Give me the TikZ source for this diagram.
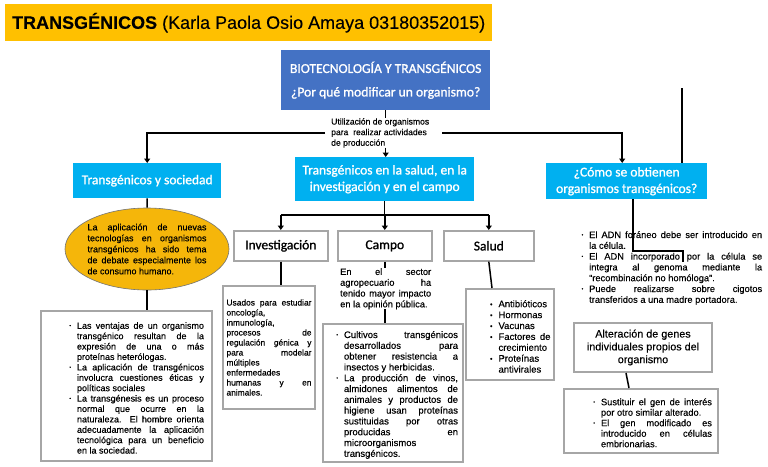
\documentclass[tikz,border=0pt]{standalone}
\usepackage{fontspec}
\setmainfont{Liberation Sans}[FakeBold=0.25]
\newfontfamily\calib{Carlito}[FakeBold=1.1]
\usetikzlibrary{arrows.meta,shapes.geometric}
\definecolor{ygold}{HTML}{FFC000}
\definecolor{ellc}{HTML}{F5B60A}
\definecolor{mblue}{HTML}{4472C4}
\definecolor{lblue}{HTML}{00B0F0}
\definecolor{gbord}{HTML}{A6A6A6}
\newcommand{\bdot}{\raisebox{0.35ex}{\fontsize{4.5}{5}\selectfont\textbullet}}
\newcommand{\bbig}{\raisebox{0.1ex}{\fontsize{7}{7}\selectfont\textbullet}}
\newenvironment{blist}[2][\bdot]{\begin{list}{#1}{\setlength{\leftmargin}{#2}\setlength{\labelsep}{6pt}\setlength{\labelwidth}{\dimexpr#2-6pt\relax}\setlength{\itemsep}{0pt}\setlength{\parsep}{0pt}\setlength{\topsep}{0pt}\setlength{\partopsep}{0pt}\setlength{\itemindent}{0pt}}}{\end{list}}
\tikzset{
  conn/.style={draw=black, line width=1.5pt},
  arr/.style={conn, -{Triangle[length=4.5pt,width=6pt]}},
  gbox/.style={draw=gbord, line width=2pt, fill=white, anchor=north west, align=justify},
  hbox/.style={draw=gbord, line width=1.6pt, fill=white, anchor=north west, minimum height=30, inner sep=0, font=\calib\fontsize{13.5}{15}\selectfont},
  bbox/.style={fill=lblue, anchor=north west, inner sep=0, align=center, text=white, font=\calib\fontsize{13.5}{16.5}\selectfont},
}
\begin{document}
\begin{tikzpicture}[x=1pt,y=-1pt]
\fill[white] (0,0) rectangle (768,466);
\useasboundingbox (0,0) rectangle (768,466);

% title
\node[fill=ygold, anchor=north west, minimum width=487, minimum height=37, inner sep=0] (title) at (5,4)
  {\fontsize{18}{20}\selectfont\textbf{TRANSGÉNICOS} (Karla Paola Osio Amaya 03180352015)};

% main box
\node[fill=mblue, anchor=north west, minimum width=209, minimum height=60, inner sep=0, align=center, text=white,
  font=\calib\fontsize{13.6}{23.5}\selectfont] (main) at (281,50)
  {BIOTECNOLOGÍA Y TRANSGÉNICOS\\¿Por qué modificar un organismo?};

% utilization text
\node[anchor=north west, inner sep=0, align=left, font=\fontsize{8.6}{10.6}\selectfont] (util) at (331,118)
  {Utilización de organismos\\para~ realizar actividades\\de producción};

% level-2 blue boxes
\node[bbox, minimum width=148, minimum height=35] (soc) at (73,163) {Transgénicos y sociedad};
\node[bbox, minimum width=179, minimum height=44] (salh) at (295,157) {Transgénicos en la salud, en la\\investigación y en el campo};
\node[bbox, minimum width=161, minimum height=36] (como) at (546,163) {¿Cómo se obtienen\\organismos transgénicos?};

\coordinate (hl) at (325,133);
\coordinate (hr) at (442,133);
\coordinate (rtop) at (682,88);
\draw[conn] (main.south) -- (main.south |- util.north);
\draw[arr] (main.south |- util.south) -- (salh.north -| main.south);
\draw[arr] (hl) -| (soc.north);
\draw[arr] (hr) -| ([xshift=-4.5pt]como.north);
\draw[conn] (rtop) -- (rtop |- como.north);

% ellipse
\node[ellipse, fill=ellc, draw=black!55, line width=0.6pt, minimum width=164, minimum height=82, inner sep=0] (ell) at (147,249) {};
\node[text width=119, inner sep=0, align=justify, font=\fontsize{9}{11}\selectfont] (ellt) at (ell.center)
  {La aplicación de nuevas\linebreak tecnologías en organismos\linebreak transgénicos ha sido tema\linebreak de debate especialmente los\linebreak de consumo humano.};
\draw[conn] (soc.south) -- (ell.north);

% ventajas box
\node[gbox, minimum width=171, minimum height=150, text width=155, inner xsep=8, inner ysep=0, font=\fontsize{9}{10.4}\selectfont] (vent) at (40,310)
{\begin{blist}{28pt}
\item Las ventajas de un organismo\linebreak transgénico resultan de la\linebreak expresión de una o más\linebreak proteínas heterólogas.
\item La aplicación de transgénicos\linebreak involucra cuestiones éticas y\linebreak políticas sociales
\item La transgénesis es un proceso\linebreak normal que ocurre en la\linebreak naturaleza. El hombre orienta\linebreak adecuadamente la aplicación\linebreak tecnológica para un beneficio\linebreak en la sociedad.
\end{blist}};
\draw[conn] (ell.south) -- (ell.south |- vent.north);

% level-3 boxes
\node[hbox, minimum width=94] (inv) at (233,230) {Investigación};
\node[hbox, minimum width=94] (cam) at (337,230) {Campo};
\node[hbox, minimum width=90] (sal) at (443,230) {Salud};
\coordinate (br) at (384,215);
\draw[conn] (salh.south) -- (salh.south |- br);
\draw[conn] (inv.north |- br) -- (sal.north |- br);
\draw[arr] (inv.north |- br) -- (inv.north);
\draw[arr] (cam.north |- br) -- (cam.north);
\draw[arr] (sal.north |- br) -- (sal.north);

% investigacion text box
\node[gbox, minimum width=92, minimum height=123, text width=85, inner xsep=3.5, inner ysep=0, font=\fontsize{8.4}{10}\selectfont] (invt) at (222,285)
{Usados para estudiar\linebreak oncología,\newline inmunología,\newline procesos de\linebreak regulación génica y\linebreak para modelar\linebreak múltiples\newline enfermedades\newline humanas y en\linebreak animales.};
\draw[conn] (inv.south) -- (inv.south |- invt.north);

% campo
\node[anchor=north west, text width=91, inner sep=0, align=justify, font=\fontsize{9.3}{10.8}\selectfont] (campt) at (340,268)
{En el sector\linebreak agropecuario ha\linebreak tenido mayor impacto\linebreak en la opinión pública.};
\node[gbox, minimum width=140, minimum height=138, text width=130, inner xsep=5, inner ysep=0, font=\fontsize{9.5}{10.8}\selectfont] (campb) at (322,323)
{\begin{blist}{16pt}
\item Cultivos transgénicos\linebreak desarrollados para\linebreak obtener resistencia a\linebreak insectos y herbicidas.
\item La producción de vinos,\linebreak almidones alimentos de\linebreak animales y productos de\linebreak higiene usan proteínas\linebreak sustituidas por otras\linebreak producidas en\linebreak microorganismos\newline transgénicos.
\end{blist}};
\draw[conn] (cam.south) -- (cam.south |- campt.north);
\draw[conn] (campt.south -| cam.south) -- (campb.north -| cam.south);

% salud
\node[gbox, minimum width=88, minimum height=91, text width=81, inner xsep=3.5, inner ysep=0, font=\fontsize{9.5}{10.9}\selectfont] (salb) at (465,288)
{\begin{blist}[\bbig]{29pt}
\item Antibióticos
\item Hormonas
\item Vacunas
\item Factores de\linebreak crecimiento
\item Proteínas\newline antivirales
\end{blist}};
\draw[conn] (sal.south) -- ([xshift=-18pt]salb.north);

% como text
\node[anchor=north west, text width=185, inner sep=0, align=justify, font=\fontsize{9.3}{10.8}\selectfont] (comot) at (577,227)
{\begin{blist}{12pt}
\item El ADN foráneo debe ser introducido en\linebreak la célula.
\item El ADN incorporado por la célula se\linebreak integra al genoma mediante la\linebreak ``recombinación no homóloga''.
\item Puede realizarse sobre cigotos\linebreak transferidos a una madre portadora.
\end{blist}};
\coordinate (cbend) at (683,251);
\coordinate (cend) at (683,262);
\draw[conn] ([xshift=6.5pt]como.south) |- (cbend) -- (cend);

% alteracion
\node[gbox, minimum width=138, minimum height=49, inner sep=0, align=center, font=\fontsize{10.8}{12.8}\selectfont] (alt) at (573,322)
{Alteración de genes\\individuales propios del\\organismo};
\node[gbox, minimum width=154, minimum height=64, text width=142, inner xsep=6, inner ysep=0, font=\fontsize{9.3}{10.5}\selectfont] (altb) at (563,388)
{\begin{blist}{31pt}
\item Sustituir el gen de interés\linebreak por otro similar alterado.
\item El gen modificado es\linebreak introducido en células\linebreak embrionarias.
\end{blist}};
\draw[conn] ([xshift=-17pt]alt.south) -- ([xshift=-12pt]altb.north);
\end{tikzpicture}
\end{document}
